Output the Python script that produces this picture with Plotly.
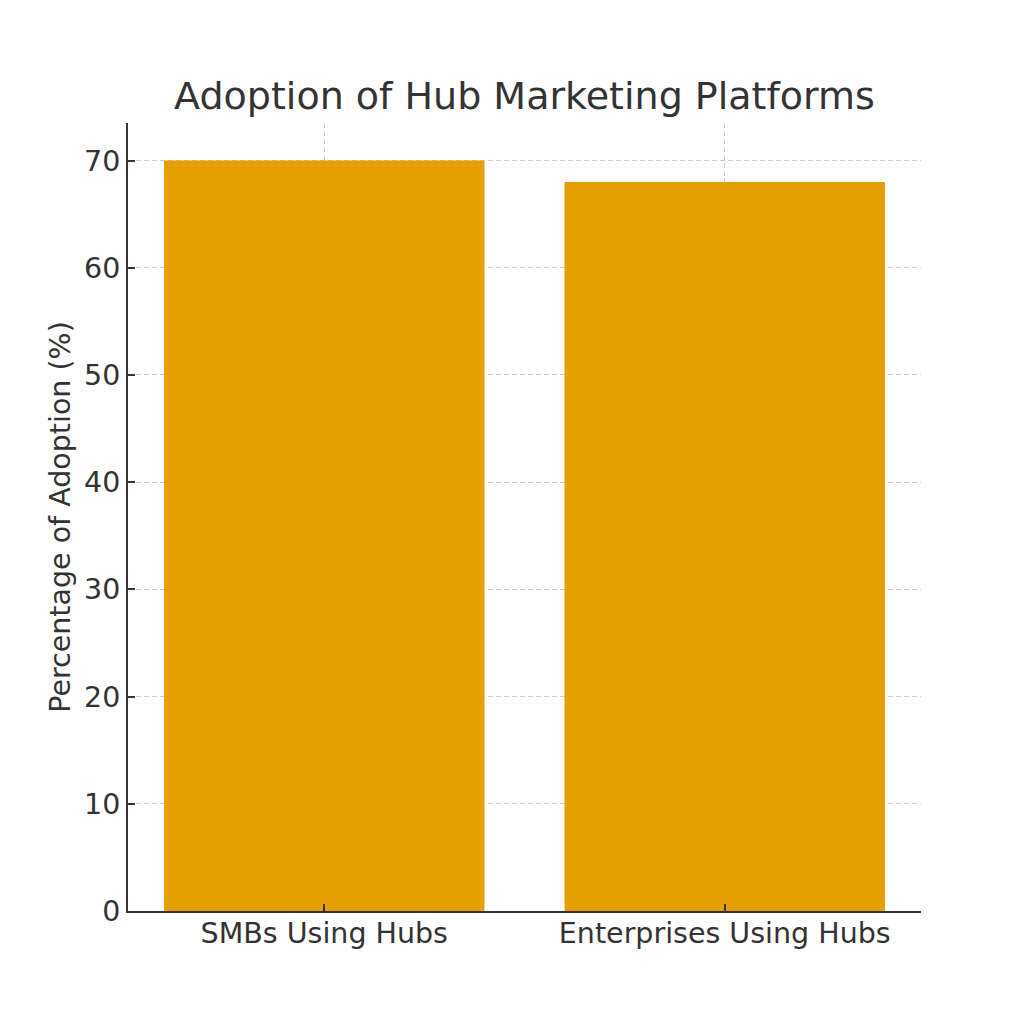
import plotly.graph_objects as go

categories = ["SMBs Using Hubs", "Enterprises Using Hubs"]
adoption = [70, 68]
y_ticks = [0, 10, 20, 30, 40, 50, 60, 70]

TEXT = "#333333"
FONT = "DejaVu Sans"

fig = go.Figure(
    go.Bar(
        x=categories,
        y=adoption,
        width=0.8,
        marker=dict(color="#E69F00", line=dict(width=0)),
    )
)

axis_common = dict(
    showgrid=True,
    gridcolor="#cccccc",
    griddash="5px,3px",
    gridwidth=1.3,
    showline=True,
    linecolor=TEXT,
    linewidth=2,
    ticks="inside",
    ticklen=7,
    tickwidth=2,
    tickcolor=TEXT,
    zeroline=False,
    automargin=False,
    layer="above traces",
    tickfont=dict(family=FONT, size=28.5, color=TEXT),
)

fig.update_layout(
    width=1024,
    height=1024,
    paper_bgcolor="white",
    plot_bgcolor="white",
    margin=dict(l=120, r=111, t=115, b=121),
    showlegend=False,
    title=dict(
        text="Adoption of Hub Marketing Platforms",
        x=0.5,
        xref="paper",
        xanchor="center",
        y=1 - 88 / 1024,
        yanchor="middle",
        font=dict(family=FONT, size=38, color=TEXT),
    ),
    xaxis=dict(range=[-0.49, 1.49], ticklabelstandoff=-4, **axis_common),
    yaxis=dict(
        range=[0, 73.5],
        tickvals=y_ticks,
        title=dict(text="Percentage of Adoption (%)", font=dict(family=FONT, size=28.5, color=TEXT), standoff=5),
        **axis_common,
    ),
)

fig.write_html("out.html")
